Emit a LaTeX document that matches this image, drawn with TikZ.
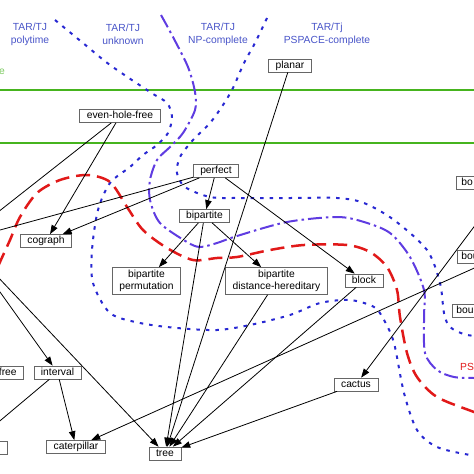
\documentclass[tikz,border=0pt]{standalone}
\usepackage{fontspec}
\setmainfont{Liberation Sans}
\definecolor{tarblue}{RGB}{72,84,200}
\definecolor{dotblue}{RGB}{40,40,210}
\definecolor{npviolet}{RGB}{95,60,225}
\definecolor{pspred}{RGB}{225,25,25}
\definecolor{bandgreen}{RGB}{70,180,30}
\usetikzlibrary{arrows.meta}

\begin{document}
\begin{tikzpicture}[x=1pt,y=-1pt,font={\fontsize{10.3}{12.6}\selectfont},
    cls/.style={draw=black!60,fill=white,line width=0.7pt,inner xsep=7pt,inner ysep=1.6pt,
      text height=7.6pt,text depth=2.2pt,align=center},
    cls2/.style={cls,text height={},text depth={},inner ysep=2.4pt},
    imp/.style={-{Triangle[length=9pt,width=6.5pt]},line width=0.8pt},
    region/.style={text=tarblue,align=center,inner sep=0pt},
    dotline/.style={dotblue,line width=2pt,dash pattern=on 3.5pt off 6pt},
    npline/.style={npviolet,line width=2pt,dash pattern=on 14pt off 4pt on 2.5pt off 4pt},
    pspline/.style={pspred,line width=2.5pt,dash pattern=on 14pt off 7pt}]
        \useasboundingbox (0,0) rectangle (474,474);
        \clip (0,0) rectangle (474,474);
        % column labels
        \node[region] (lpoly) at (30,34.5) {TAR/TJ\\polytime};
        \node[region] (lunk) at (123,34.5) {TAR/TJ\\unknown};
        \node[region] (lnp) at (218,34.5) {TAR/TJ\\NP-complete};
        \node[region] (lpsp) at (327,34.5) {TAR/Tj\\PSPACE-complete};
        \node[text=bandgreen!70!white,anchor=east,inner sep=0pt] (lgreen) at (5,72) {e};
        \node[text=pspred,anchor=west,inner sep=0pt] (lred) at (460,367) {PS};
        % green band
        \draw[bandgreen,line width=2.4pt] (-5,90) -- (480,90);
        \draw[bandgreen,line width=2.4pt] (-5,143) -- (480,143);
        % polytime / unknown
        \draw[dotline] plot[smooth,tension=0.5] coordinates {(55,20) (83,43) (110,65) (150,92)
          (167,103) (172,117) (168,133) (157,145) (143,155) (130,167) (110,183) (98,210) (92,250)
          (93,283) (110,313) (140,323) (177,328) (217,330) (250,325) (290,315) (320,303) (350,300)
          (374,307) (384,320) (394,343) (404,393) (417,430) (437,447) (470,455) (490,457)};
        % unknown / NP-complete
        \draw[npline] plot[smooth,tension=0.5] coordinates {(161,15) (173,37) (188,67) (195,92)
          (195,110) (183,133) (170,147) (157,160) (150,180) (150,200) (160,223) (187,242) (200,247)
          (217,243) (237,236) (287,222) (337,217) (364,222) (390,233) (410,257) (424,290) (424,317)
          (425,353) (437,370) (454,377) (474,378) (490,378)};
        % NP-complete / PSPACE-complete
        \draw[dotline] plot[smooth,tension=0.5] coordinates {(267,18) (255,43) (244,63) (233,88)
          (223,105) (210,123) (193,140) (180,157) (177,173) (185,187) (210,197) (240,198) (290,198)
          (337,198) (364,203) (394,220) (427,250) (440,283) (444,313) (450,327) (467,335) (490,336)};
        % PSPACE-complete
        \draw[pspline] plot[smooth,tension=0.5] coordinates {(-10,285) (0,262) (10,240) (20,217)
          (37,193) (60,180) (87,175) (110,182) (127,207) (143,230) (167,248) (193,260) (217,258)
          (237,257) (270,250) (304,245) (347,245) (370,252) (387,267) (397,290) (400,317) (407,353)
          (417,377) (437,397) (474,412) (490,418)};
        % graph classes
        \node[cls] (ehf) at (120,116) {even-hole-free};
        \node[cls] (planar) at (290,65.5) {planar};
        \node[cls] (perfect) at (216,171) {perfect};
        \node[cls] (bip) at (204.5,216) {bipartite};
        \node[cls] (cog) at (46,241) {cograph};
        \node[cls2] (bperm) at (146.5,281) {bipartite\\permutation};
        \node[cls2] (bdh) at (276.5,281) {bipartite\\distance-hereditary};
        \node[cls] (block) at (364,280.5) {block};
        \node[cls] (interval) at (57.5,372.5) {interval};
        \node[cls] (cat) at (76,447) {caterpillar};
        \node[cls] (tree) at (165,453.5) {tree};
        \node[cls] (cactus) at (356,384.5) {cactus};
        % classes cut by the frame
        \node[cls,anchor=west,text width=60pt,align=left,inner xsep=5pt] (bo1) at (456,183) {bo};
        \node[cls,anchor=west,text width=60pt,align=left,inner xsep=4pt] (bou2) at (457,257) {bou};
        \node[cls,anchor=west,text width=60pt,align=left,inner xsep=4pt] (bou3) at (452,311) {bou};
        \node[cls,anchor=east,text width=60pt,align=right] (free) at (24,372.5) {free};
        \node[cls,anchor=east,text width=60pt,align=right] (lnode) at (8,447.5) {l};
        \coordinate (ehfout) at (-40,242);
        \coordinate (perfout) at (-60,246.4);
        \coordinate (treein) at (-40,237);
        \coordinate (intin) at (-30,250);
        \coordinate (intout) at (-30,446);
        \coordinate (cactin) at (500,192);
        \coordinate (catin) at (510,252);
        % inclusions
        \draw[line width=0.8pt] (ehf) -- (ehfout);
        \draw[imp] (ehf) -- (cog);
        \draw[line width=0.8pt] (perfect) -- (perfout);
        \draw[imp] (perfect) -- (cog);
        \draw[imp] (perfect) -- (bip);
        \draw[imp] (perfect) -- (block);
        \draw[imp] (bip) -- (bperm);
        \draw[imp] (bip) -- (bdh);
        \draw[imp] (bip) -- (tree);
        \draw[imp] (planar) -- (tree);
        \draw[imp] (bdh) -- (tree);
        \draw[imp] (block) -- (tree);
        \draw[imp] (cactus) -- (tree);
        \draw[imp] (treein) -- (tree);
        \draw[imp] (intin) -- (interval);
        \draw[imp] (interval) -- (cat);
        \draw[line width=0.8pt] (interval) -- (intout);
        \draw[imp] (cactin) -- (cactus);
        \draw[imp] (catin) -- (cat);
      \end{tikzpicture}
\end{document}
